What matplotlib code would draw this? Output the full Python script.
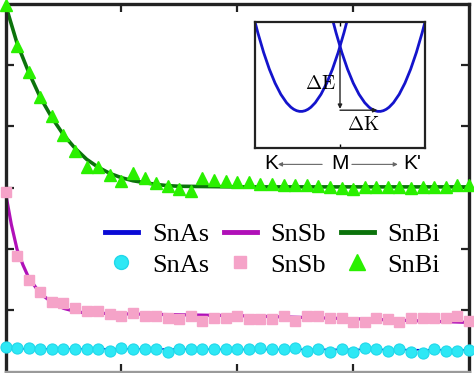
import numpy as np
import matplotlib
matplotlib.use("Agg")
import matplotlib.pyplot as plt
from matplotlib.lines import Line2D
from matplotlib.path import Path
from matplotlib.patches import PathPatch

plt.rcParams['mathtext.fontset'] = 'cm'

# ---------------- data ----------------
sample_x = [round(0.1 * i, 1) for i in range(41)]

snas_pts = [0.40, 0.39, 0.39, 0.37, 0.36, 0.37, 0.37, 0.37, 0.37, 0.34, 0.38,
            0.37, 0.37, 0.36, 0.32, 0.37, 0.37, 0.36, 0.36, 0.36, 0.37,
            0.37, 0.39, 0.37, 0.36, 0.39, 0.34, 0.37, 0.32, 0.37, 0.32,
            0.39, 0.36, 0.34, 0.37, 0.32, 0.30, 0.37, 0.34, 0.34, 0.35]

snsb_pts = [2.92, 1.88, 1.50, 1.29, 1.13, 1.11, 1.04, 0.98, 0.98, 0.93, 0.90,
            0.95, 0.91, 0.90, 0.88, 0.86, 0.90, 0.83, 0.88, 0.88, 0.91,
            0.85, 0.85, 0.85, 0.90, 0.83, 0.90, 0.90, 0.88, 0.88, 0.80,
            0.80, 0.88, 0.86, 0.80, 0.88, 0.88, 0.88, 0.88, 0.90, 0.82]

snbi_pts = [5.98, 5.30, 4.89, 4.48, 4.16, 3.85, 3.60, 3.34, 3.34, 3.20, 3.11,
            3.24, 3.15, 3.08, 3.03, 2.98, 2.95, 3.16, 3.13, 3.10, 3.09,
            3.09, 3.06, 3.05, 3.04, 3.04, 3.04, 3.02, 3.01, 2.99, 2.98,
            3.01, 3.01, 3.01, 3.01, 2.99, 3.01, 3.01, 3.01, 3.04, 3.04]

snas_line_x = [0.0, 1.0, 2.0, 3.0, 4.0]
snas_line_y = [0.37, 0.37, 0.36, 0.36, 0.35]

snsb_line_x = [0.0, 0.05, 0.1, 0.15, 0.2, 0.3, 0.4, 0.5, 0.6, 0.7, 0.8, 1.0,
               2.0, 3.0, 3.5, 4.0]
snsb_line_y = [2.92, 2.40, 1.99, 1.74, 1.53, 1.27, 1.13, 1.03, 0.98, 0.95, 0.95,
               0.94, 0.91, 0.86, 0.83, 0.80]

snbi_line_x = [0.0, 0.1, 0.2, 0.3, 0.4, 0.5, 0.6, 0.7, 0.8, 0.9, 1.0, 1.1, 1.2,
               1.3, 1.4, 1.5, 2.0, 3.0, 4.0]
snbi_line_y = [5.98, 5.35, 4.88, 4.47, 4.14, 3.86, 3.64, 3.46, 3.33, 3.23, 3.16,
               3.11, 3.08, 3.05, 3.03, 3.02, 3.01, 3.01, 3.01]

labels = ["SnAs", "SnSb", "SnBi"]
x_ticks = [1, 2, 3]
y_ticks = [1, 2, 3, 4, 5]

# inset schematic bands (quadratic Bezier: start, control, end)
band_left = [(-1.0, 1.0), (-0.46, -0.42), (0.08, 1.0)]
band_right = [(-0.08, 1.0), (0.46, -0.42), (1.0, 1.0)]
k_labels = ["K", "M", "K'"]

# ---------------- figure ----------------
W, H = 474, 373
fig = plt.figure(figsize=(W / 100, H / 100), dpi=100)
L, R, T, B = 5.5, 469, 3.5, 371.5
ax = fig.add_axes([L / W, 1 - B / H, (R - L) / W, (B - T) / H])

c_blue = '#0a0ad6'
c_cyan = '#2de8f5'
c_mag = '#b010b8'
c_pink = '#f5a3c8'
c_dgreen = '#0b730b'
c_green = '#2af000'

ax.plot(snas_line_x, snas_line_y, color=c_blue, lw=1.2, zorder=2)
ax.plot(snsb_line_x, snsb_line_y, color=c_mag, lw=2.3, zorder=2)
ax.plot(snbi_line_x, snbi_line_y, color=c_dgreen, lw=2.6, zorder=2)

ax.plot(sample_x, snas_pts, ls='none', marker='o', ms=8, mfc=c_cyan,
        mec='#22d8ea', mew=0.8, zorder=3, clip_on=False)
ax.plot(sample_x, snsb_pts, ls='none', marker='s', ms=7, mfc=c_pink,
        mec=c_pink, zorder=3, clip_on=False)
ax.plot(sample_x, snbi_pts, ls='none', marker='^', ms=8.5, mfc=c_green,
        mec=c_green, zorder=3, clip_on=False)

ax.set_xlim(0, 4)
ax.set_ylim(0, 6)
ax.set_xticks(x_ticks)
ax.set_yticks(y_ticks)
ax.tick_params(direction='in', length=6, width=1.6, color='#222222',
               top=True, right=True, labelbottom=False, labelleft=False)
for s in ['left', 'right', 'top']:
    ax.spines[s].set_linewidth(2.4)
    ax.spines[s].set_color('#222222')
ax.spines['bottom'].set_linewidth(2.4)
ax.spines['bottom'].set_color('#9a9a9a')

handles = [
    Line2D([], [], color=c_blue, lw=3.5),
    Line2D([], [], ls='none', marker='o', ms=10, mfc=c_cyan, mec='#22d8ea'),
    Line2D([], [], color=c_mag, lw=3.5),
    Line2D([], [], ls='none', marker='s', ms=8, mfc=c_pink, mec=c_pink),
    Line2D([], [], color=c_dgreen, lw=3.5),
    Line2D([], [], ls='none', marker='^', ms=12, mfc=c_green, mec=c_green),
]
leg_labels = [labels[0], labels[0], labels[1], labels[1], labels[2], labels[2]]
fig.legend(handles, leg_labels, ncol=3, frameon=False,
           loc='upper left', bbox_to_anchor=(105 / W, 1 - 223 / H),
           prop={'family': 'Liberation Serif', 'size': 19},
           handlelength=1.25, handletextpad=0.53, columnspacing=0.55,
           labelspacing=0.25, borderpad=0, borderaxespad=0)

# ---------------- inset ----------------
iL, iR, iT, iB = 255, 425, 22, 148
axi = fig.add_axes([iL / W, 1 - iB / H, (iR - iL) / W, (iB - iT) / H])
axi.set_xlim(-1, 1)
axi.set_ylim(0, 1)
for band in (band_left, band_right):
    p = Path(band, [Path.MOVETO, Path.CURVE3, Path.CURVE3])
    patch = PathPatch(p, fill=False, edgecolor='#1414cc', lw=2.0)
    axi.add_patch(patch)
    patch.set_clip_path(axi.patch)
axi.set_xticks([0])
axi.set_yticks([])
axi.tick_params(direction='in', length=3, width=1, top=True,
                labelbottom=False)
for s in axi.spines.values():
    s.set_linewidth(1.6)
    s.set_color('#222222')

axi.annotate('', xy=(0, 0.31), xytext=(0, 0.77),
             arrowprops=dict(arrowstyle='-|>', color='#222222', lw=1.0,
                             mutation_scale=6, shrinkA=0, shrinkB=0))
axi.annotate('', xy=(0.44, 0.30), xytext=(0, 0.30),
             arrowprops=dict(arrowstyle='-|>', color='#222222', lw=1.0,
                             mutation_scale=6, shrinkA=0, shrinkB=0))
axi.text(-0.235, 0.51, r'$\Delta\mathrm{E}$', fontsize=14,
         ha='center', va='center')
axi.text(0.27, 0.19, r'$\Delta\mathrm{K}$', fontsize=14,
         ha='center', va='center')

for xk, lab in zip([-0.81, 0.0, 0.85], k_labels):
    axi.text(xk, -0.125, lab, fontsize=15, family='Liberation Sans',
             ha='center', va='center', clip_on=False)
axi.annotate('', xy=(-0.73, -0.13), xytext=(-0.21, -0.13),
             xycoords='data', annotation_clip=False,
             arrowprops=dict(arrowstyle='-|>', color='#666666', lw=0.8,
                             mutation_scale=6, shrinkA=0, shrinkB=0))
axi.annotate('', xy=(0.68, -0.13), xytext=(0.14, -0.13),
             xycoords='data', annotation_clip=False,
             arrowprops=dict(arrowstyle='-|>', color='#666666', lw=0.8,
                             mutation_scale=6, shrinkA=0, shrinkB=0))

fig.savefig('out.png', dpi=100)
